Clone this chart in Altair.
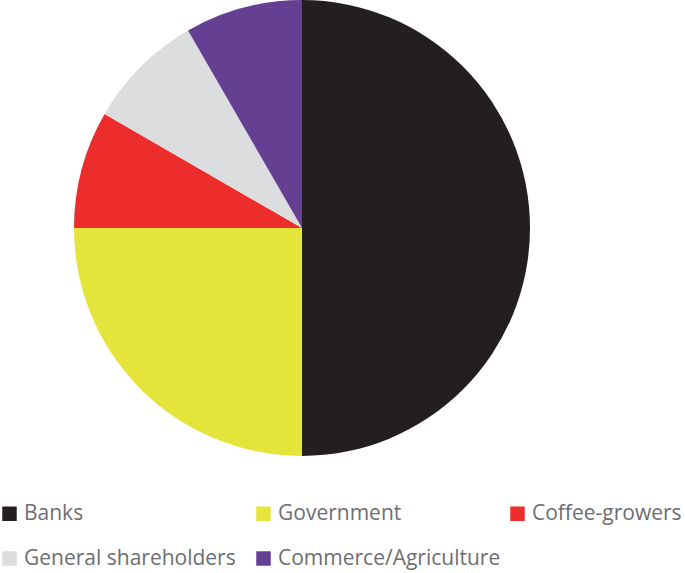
import altair as alt
import pandas as pd

categories = ["Banks", "Government", "Coffee-growers", "General shareholders", "Commerce/Agriculture"]
shares = [50, 25, 8.33, 8.33, 8.33]
colors = ["#231f20", "#e5e43a", "#ec2d2c", "#dcdddf", "#643f92"]

df = pd.DataFrame({"category": categories, "share": shares, "idx": list(range(len(categories)))})

chart = alt.Chart(df).mark_arc(outerRadius=228, stroke=None).encode(
    theta=alt.Theta("share:Q", stack=True),
    order=alt.Order("idx:Q"),
    color=alt.Color(
        "category:N",
        scale=alt.Scale(domain=categories, range=colors),
        sort=categories,
        legend=alt.Legend(
            title=None,
            orient="none",
            legendX=-1,
            legendY=503,
            direction="horizontal",
            columns=3,
            gridAlign="all",
            columnPadding=6,
            rowPadding=23,
            symbolType="square",
            symbolSize=210,
            symbolStrokeWidth=0,
            symbolOffset=0,
            labelOffset=4,
            labelFont="Open Sans",
            labelFontSize=21,
            labelColor="#6d6e71",
            labelLimit=400,
            padding=0,
        ),
    ),
    x=alt.value(302),
    y=alt.value(228),
).properties(
    width=685,
    height=573,
    autosize=alt.AutoSizeParams(type="none"),
    padding=0,
).configure_view(stroke=None)

chart.save("out.html", embed_options={"renderer": "svg", "actions": False})
